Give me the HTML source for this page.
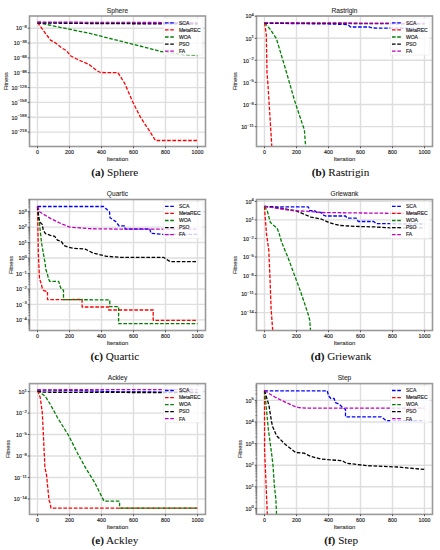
<!DOCTYPE html>
<html><head><meta charset="utf-8"><style>html,body{margin:0;padding:0;background:#fff;width:440px;height:550px;overflow:hidden}svg{display:block}.t{font-family:"Liberation Sans",sans-serif;fill:#262626;stroke:#1a1a1a;stroke-width:0.15px}.c{font-family:"Liberation Serif",serif;fill:#111;stroke:#111;stroke-width:0.05px}.l{font-family:"Liberation Sans",sans-serif;fill:#262626;stroke:#262626;stroke-width:0.08px}</style></head><body>
<svg width="440" height="550" viewBox="0 0 440 550">
<rect x="0" y="0" width="440" height="550" fill="#fff"/>
<defs><clipPath id="clip0"><rect x="29.5" y="16" width="176" height="130.5"/></clipPath></defs>
<path d="M37.5 16V146.5M69.5 16V146.5M101.5 16V146.5M133.5 16V146.5M165.5 16V146.5M197.5 16V146.5M29.5 28.2H205.5M29.5 43.05H205.5M29.5 57.9H205.5M29.5 72.7H205.5M29.5 87.6H205.5M29.5 102.4H205.5M29.5 117.3H205.5M29.5 132.1H205.5" stroke="#dedede" stroke-width="1.4" fill="none"/>
<g clip-path="url(#clip0)" fill="none" stroke-width="1.3" stroke-dasharray="3.6,1.65" stroke-linejoin="round">
<path d="M37.5 22.5 L100 23 L197.5 23.3" stroke="#0000ff"/>
<path d="M37.5 22.4 L43 30 L50.5 40.1 L55 42.6 L61.8 48 L66.4 50.6 L70.9 56 L77.7 59.5 L89 64.5 L97 70.8 L100.5 72.5 L118 72.7 L124.8 83.6 L132.7 101.8 L140.7 117.7 L149.8 131.4 L155.5 140.5 L197.5 140.5" stroke="#ff0000"/>
<path d="M37.5 22.6 L60 27.3 L90 33.4 L110 38.5 L140 46 L161 51.5 L180 54.3 L197.5 55.6" stroke="#008000"/>
<path d="M37.5 23 L100 23.6 L197.5 24" stroke="#000000"/>
<path d="M37.5 22 L100 22.4 L197.5 22.6" stroke="#bf00bf"/>
</g>
<rect x="29.5" y="16" width="176" height="130.5" fill="none" stroke="#999999" stroke-width="1.6"/>
<path d="M37.5 146.5v1.8M69.5 146.5v1.8M101.5 146.5v1.8M133.5 146.5v1.8M165.5 146.5v1.8M197.5 146.5v1.8M29.5 28.2h-1.8M29.5 43.05h-1.8M29.5 57.9h-1.8M29.5 72.7h-1.8M29.5 87.6h-1.8M29.5 102.4h-1.8M29.5 117.3h-1.8M29.5 132.1h-1.8" stroke="#333333" stroke-width="0.8" fill="none"/>
<text class="t" x="37.5" y="154.1" font-size="5.3" text-anchor="middle">0</text>
<text class="t" x="69.5" y="154.1" font-size="5.3" text-anchor="middle">200</text>
<text class="t" x="101.5" y="154.1" font-size="5.3" text-anchor="middle">400</text>
<text class="t" x="133.5" y="154.1" font-size="5.3" text-anchor="middle">600</text>
<text class="t" x="165.5" y="154.1" font-size="5.3" text-anchor="middle">800</text>
<text class="t" x="197.5" y="154.1" font-size="5.3" text-anchor="middle">1000</text>
<text class="t" x="26.7" y="30.4" font-size="5.3" text-anchor="end">10<tspan font-size="4.1" dy="-2.2">−8</tspan></text>
<text class="t" x="26.7" y="45.25" font-size="5.3" text-anchor="end">10<tspan font-size="4.1" dy="-2.2">−38</tspan></text>
<text class="t" x="26.7" y="60.1" font-size="5.3" text-anchor="end">10<tspan font-size="4.1" dy="-2.2">−68</tspan></text>
<text class="t" x="26.7" y="74.9" font-size="5.3" text-anchor="end">10<tspan font-size="4.1" dy="-2.2">−98</tspan></text>
<text class="t" x="26.7" y="89.8" font-size="5.3" text-anchor="end">10<tspan font-size="4.1" dy="-2.2">−128</tspan></text>
<text class="t" x="26.7" y="104.6" font-size="5.3" text-anchor="end">10<tspan font-size="4.1" dy="-2.2">−158</tspan></text>
<text class="t" x="26.7" y="119.5" font-size="5.3" text-anchor="end">10<tspan font-size="4.1" dy="-2.2">−188</tspan></text>
<text class="t" x="26.7" y="134.3" font-size="5.3" text-anchor="end">10<tspan font-size="4.1" dy="-2.2">−218</tspan></text>
<text class="l" x="117.5" y="161.2" font-size="6.0" text-anchor="middle">Iteration</text>
<text class="l" transform="translate(8.15 81.25) rotate(-90)" font-size="5.6" text-anchor="middle">Fitness</text>
<text class="l" x="117.5" y="12.7" font-size="6.6" text-anchor="middle">Sphere</text>
<rect x="163.4" y="18.1" width="39.5" height="37" rx="1.2" fill="#ffffff" fill-opacity="0.8" stroke="#e8e8e8" stroke-width="0.6"/>
<path d="M165 22.9h9.3" stroke="#0000ff" stroke-width="1.3" stroke-dasharray="3.6,1.65"/>
<text class="t" x="178.9" y="24.7" font-size="5.05">SCA</text>
<path d="M165 29.95h9.3" stroke="#ff0000" stroke-width="1.3" stroke-dasharray="3.6,1.65"/>
<text class="t" x="178.9" y="31.75" font-size="5.05">MetaREC</text>
<path d="M165 37h9.3" stroke="#008000" stroke-width="1.3" stroke-dasharray="3.6,1.65"/>
<text class="t" x="178.9" y="38.8" font-size="5.05">WOA</text>
<path d="M165 44.05h9.3" stroke="#000000" stroke-width="1.3" stroke-dasharray="3.6,1.65"/>
<text class="t" x="178.9" y="45.85" font-size="5.05">PSO</text>
<path d="M165 51.1h9.3" stroke="#bf00bf" stroke-width="1.3" stroke-dasharray="3.6,1.65"/>
<text class="t" x="178.9" y="52.9" font-size="5.05">FA</text>
<text class="c" x="114.7" y="176.4" font-size="11.2" text-anchor="middle"><tspan font-weight="bold">(a)</tspan> Sphere</text>
<defs><clipPath id="clip1"><rect x="256.5" y="16" width="176" height="130.5"/></clipPath></defs>
<path d="M264.5 16V146.5M296.5 16V146.5M328.5 16V146.5M360.5 16V146.5M392.5 16V146.5M424.5 16V146.5M256.5 16.2H432.5M256.5 38.3H432.5M256.5 60.3H432.5M256.5 82.4H432.5M256.5 104.5H432.5M256.5 126.6H432.5" stroke="#dedede" stroke-width="1.4" fill="none"/>
<g clip-path="url(#clip1)" fill="none" stroke-width="1.3" stroke-dasharray="3.6,1.65" stroke-linejoin="round">
<path d="M264.5 23.2 L330 24 L347.7 24.6 L350.5 27 L369.6 27 L372.3 28 L424.5 28.4" stroke="#0000ff"/>
<path d="M264.6 22.9 L266.3 34.5 L267 72.7 L268 85 L271.8 146.5" stroke="#ff0000"/>
<path d="M264.6 22.9 L270 29 L276.4 38.6 L286.6 72.7 L294.5 100.4 L301.9 122.6 L304.4 130 L305.6 146.5" stroke="#008000"/>
<path d="M264.5 23 L424.5 23.9" stroke="#000000"/>
<path d="M264.5 22.6 L424.5 23.4" stroke="#bf00bf"/>
</g>
<rect x="256.5" y="16" width="176" height="130.5" fill="none" stroke="#999999" stroke-width="1.6"/>
<path d="M264.5 146.5v1.8M296.5 146.5v1.8M328.5 146.5v1.8M360.5 146.5v1.8M392.5 146.5v1.8M424.5 146.5v1.8M256.5 16.2h-1.8M256.5 38.3h-1.8M256.5 60.3h-1.8M256.5 82.4h-1.8M256.5 104.5h-1.8M256.5 126.6h-1.8" stroke="#333333" stroke-width="0.8" fill="none"/>
<text class="t" x="264.5" y="154.1" font-size="5.3" text-anchor="middle">0</text>
<text class="t" x="296.5" y="154.1" font-size="5.3" text-anchor="middle">200</text>
<text class="t" x="328.5" y="154.1" font-size="5.3" text-anchor="middle">400</text>
<text class="t" x="360.5" y="154.1" font-size="5.3" text-anchor="middle">600</text>
<text class="t" x="392.5" y="154.1" font-size="5.3" text-anchor="middle">800</text>
<text class="t" x="424.5" y="154.1" font-size="5.3" text-anchor="middle">1000</text>
<text class="t" x="253.7" y="18.4" font-size="5.3" text-anchor="end">10<tspan font-size="4.1" dy="-2.2">4</tspan></text>
<text class="t" x="253.7" y="40.5" font-size="5.3" text-anchor="end">10<tspan font-size="4.1" dy="-2.2">1</tspan></text>
<text class="t" x="253.7" y="62.5" font-size="5.3" text-anchor="end">10<tspan font-size="4.1" dy="-2.2">−2</tspan></text>
<text class="t" x="253.7" y="84.6" font-size="5.3" text-anchor="end">10<tspan font-size="4.1" dy="-2.2">−5</tspan></text>
<text class="t" x="253.7" y="106.7" font-size="5.3" text-anchor="end">10<tspan font-size="4.1" dy="-2.2">−8</tspan></text>
<text class="t" x="253.7" y="128.8" font-size="5.3" text-anchor="end">10<tspan font-size="4.1" dy="-2.2">−11</tspan></text>
<text class="l" x="344.5" y="161.2" font-size="6.0" text-anchor="middle">Iteration</text>
<text class="l" transform="translate(236.75 81.25) rotate(-90)" font-size="5.6" text-anchor="middle">Fitness</text>
<text class="l" x="344.5" y="12.7" font-size="6.6" text-anchor="middle">Rastrigin</text>
<rect x="390.4" y="18.1" width="39.5" height="37" rx="1.2" fill="#ffffff" fill-opacity="0.8" stroke="#e8e8e8" stroke-width="0.6"/>
<path d="M392 22.9h9.3" stroke="#0000ff" stroke-width="1.3" stroke-dasharray="3.6,1.65"/>
<text class="t" x="405.9" y="24.7" font-size="5.05">SCA</text>
<path d="M392 29.95h9.3" stroke="#ff0000" stroke-width="1.3" stroke-dasharray="3.6,1.65"/>
<text class="t" x="405.9" y="31.75" font-size="5.05">MetaREC</text>
<path d="M392 37h9.3" stroke="#008000" stroke-width="1.3" stroke-dasharray="3.6,1.65"/>
<text class="t" x="405.9" y="38.8" font-size="5.05">WOA</text>
<path d="M392 44.05h9.3" stroke="#000000" stroke-width="1.3" stroke-dasharray="3.6,1.65"/>
<text class="t" x="405.9" y="45.85" font-size="5.05">PSO</text>
<path d="M392 51.1h9.3" stroke="#bf00bf" stroke-width="1.3" stroke-dasharray="3.6,1.65"/>
<text class="t" x="405.9" y="52.9" font-size="5.05">FA</text>
<text class="c" x="340.5" y="176.4" font-size="11.2" text-anchor="middle"><tspan font-weight="bold">(b)</tspan> Rastrigin</text>
<defs><clipPath id="clip2"><rect x="29.5" y="199.5" width="176" height="131"/></clipPath></defs>
<path d="M37.5 199.5V330.5M69.5 199.5V330.5M101.5 199.5V330.5M133.5 199.5V330.5M165.5 199.5V330.5M197.5 199.5V330.5M29.5 211.6H205.5M29.5 227.1H205.5M29.5 242.5H205.5M29.5 258H205.5M29.5 273.5H205.5M29.5 289H205.5M29.5 304.4H205.5M29.5 319.9H205.5" stroke="#dedede" stroke-width="1.4" fill="none"/>
<g clip-path="url(#clip2)" fill="none" stroke-width="1.3" stroke-dasharray="3.6,1.65" stroke-linejoin="round">
<path d="M37.5 206.5 L103.6 206.5 L109.5 211.8 L110 217.7 L112.7 219.5 L115.5 221.4 L119.1 225.9 L125 225.9 L125 229 L149.8 229 L150.9 233.2 L162.3 234.4 L197.5 234.4" stroke="#0000ff"/>
<path d="M37.5 206.6 L38.4 254.5 L39.5 278.7 L41.3 283.8 L42.4 288.9 L43.8 290.7 L47.5 291.5 L47.5 299.6 L82.1 299.5 L82.1 307 L108.7 307 L108.7 310 L153.2 310 L153.2 320.3 L197.5 320.3" stroke="#ff0000"/>
<path d="M37.5 206.6 L39.5 223.8 L41.6 243.4 L44.3 258.7 L44.9 262 L46 270 L47.5 274.4 L48.5 278.7 L49.6 281.3 L58.7 281.3 L59.8 285.3 L61.3 289.3 L63.5 290 L63.5 299.6 L109.8 299.9 L109.8 306.6 L118.6 306.6 L118.6 323.7 L197.5 323.7" stroke="#008000"/>
<path d="M37.5 206.6 L38.9 218.4 L40 222.2 L42.2 224.4 L43.3 230.4 L45.5 233.6 L50.4 235.3 L54.7 236.4 L57.4 240.2 L61.3 241.3 L64 245.6 L68.9 247.3 L74 248.3 L85.2 249.1 L93.4 253.2 L106.7 256.3 L120 257.3 L163.4 257.3 L170.2 261.6 L197.5 261.6" stroke="#000000"/>
<path d="M37.5 206.6 L39.5 211.8 L50.4 218.4 L61.3 223.8 L70 227.1 L89.3 228.7 L120 229.1 L197.5 229.1" stroke="#bf00bf"/>
</g>
<rect x="29.5" y="199.5" width="176" height="131" fill="none" stroke="#999999" stroke-width="1.6"/>
<path d="M37.5 330.5v1.8M69.5 330.5v1.8M101.5 330.5v1.8M133.5 330.5v1.8M165.5 330.5v1.8M197.5 330.5v1.8M29.5 211.6h-1.8M29.5 227.1h-1.8M29.5 242.5h-1.8M29.5 258h-1.8M29.5 273.5h-1.8M29.5 289h-1.8M29.5 304.4h-1.8M29.5 319.9h-1.8M29.5 206.93h-0.9M29.5 204.2h-0.9M29.5 202.27h-0.9M29.5 200.77h-0.9M29.5 199.54h-0.9M29.5 222.43h-0.9M29.5 219.7h-0.9M29.5 217.77h-0.9M29.5 216.27h-0.9M29.5 215.04h-0.9M29.5 214h-0.9M29.5 213.1h-0.9M29.5 212.31h-0.9M29.5 237.93h-0.9M29.5 235.2h-0.9M29.5 233.27h-0.9M29.5 231.77h-0.9M29.5 230.54h-0.9M29.5 229.5h-0.9M29.5 228.6h-0.9M29.5 227.81h-0.9M29.5 253.43h-0.9M29.5 250.7h-0.9M29.5 248.77h-0.9M29.5 247.27h-0.9M29.5 246.04h-0.9M29.5 245h-0.9M29.5 244.1h-0.9M29.5 243.31h-0.9M29.5 268.93h-0.9M29.5 266.2h-0.9M29.5 264.27h-0.9M29.5 262.77h-0.9M29.5 261.54h-0.9M29.5 260.5h-0.9M29.5 259.6h-0.9M29.5 258.81h-0.9M29.5 284.43h-0.9M29.5 281.7h-0.9M29.5 279.77h-0.9M29.5 278.27h-0.9M29.5 277.04h-0.9M29.5 276h-0.9M29.5 275.1h-0.9M29.5 274.31h-0.9M29.5 299.93h-0.9M29.5 297.2h-0.9M29.5 295.27h-0.9M29.5 293.77h-0.9M29.5 292.54h-0.9M29.5 291.5h-0.9M29.5 290.6h-0.9M29.5 289.81h-0.9M29.5 315.43h-0.9M29.5 312.7h-0.9M29.5 310.77h-0.9M29.5 309.27h-0.9M29.5 308.04h-0.9M29.5 307h-0.9M29.5 306.1h-0.9M29.5 305.31h-0.9M29.5 328.2h-0.9M29.5 326.27h-0.9M29.5 324.77h-0.9M29.5 323.54h-0.9M29.5 322.5h-0.9M29.5 321.6h-0.9M29.5 320.81h-0.9" stroke="#333333" stroke-width="0.8" fill="none"/>
<text class="t" x="37.5" y="338.1" font-size="5.3" text-anchor="middle">0</text>
<text class="t" x="69.5" y="338.1" font-size="5.3" text-anchor="middle">200</text>
<text class="t" x="101.5" y="338.1" font-size="5.3" text-anchor="middle">400</text>
<text class="t" x="133.5" y="338.1" font-size="5.3" text-anchor="middle">600</text>
<text class="t" x="165.5" y="338.1" font-size="5.3" text-anchor="middle">800</text>
<text class="t" x="197.5" y="338.1" font-size="5.3" text-anchor="middle">1000</text>
<text class="t" x="26.7" y="213.8" font-size="5.3" text-anchor="end">10<tspan font-size="4.1" dy="-2.2">3</tspan></text>
<text class="t" x="26.7" y="229.3" font-size="5.3" text-anchor="end">10<tspan font-size="4.1" dy="-2.2">2</tspan></text>
<text class="t" x="26.7" y="244.7" font-size="5.3" text-anchor="end">10<tspan font-size="4.1" dy="-2.2">1</tspan></text>
<text class="t" x="26.7" y="260.2" font-size="5.3" text-anchor="end">10<tspan font-size="4.1" dy="-2.2">0</tspan></text>
<text class="t" x="26.7" y="275.7" font-size="5.3" text-anchor="end">10<tspan font-size="4.1" dy="-2.2">−1</tspan></text>
<text class="t" x="26.7" y="291.2" font-size="5.3" text-anchor="end">10<tspan font-size="4.1" dy="-2.2">−2</tspan></text>
<text class="t" x="26.7" y="306.6" font-size="5.3" text-anchor="end">10<tspan font-size="4.1" dy="-2.2">−3</tspan></text>
<text class="t" x="26.7" y="322.1" font-size="5.3" text-anchor="end">10<tspan font-size="4.1" dy="-2.2">−4</tspan></text>
<text class="l" x="117.5" y="345.2" font-size="6.0" text-anchor="middle">Iteration</text>
<text class="l" transform="translate(12.6 265) rotate(-90)" font-size="5.6" text-anchor="middle">Fitness</text>
<text class="l" x="117.5" y="196.2" font-size="6.6" text-anchor="middle">Quartic</text>
<rect x="163.4" y="201.6" width="39.5" height="37" rx="1.2" fill="#ffffff" fill-opacity="0.8" stroke="#e8e8e8" stroke-width="0.6"/>
<path d="M165 206.4h9.3" stroke="#0000ff" stroke-width="1.3" stroke-dasharray="3.6,1.65"/>
<text class="t" x="178.9" y="208.2" font-size="5.05">SCA</text>
<path d="M165 213.45h9.3" stroke="#ff0000" stroke-width="1.3" stroke-dasharray="3.6,1.65"/>
<text class="t" x="178.9" y="215.25" font-size="5.05">MetaREC</text>
<path d="M165 220.5h9.3" stroke="#008000" stroke-width="1.3" stroke-dasharray="3.6,1.65"/>
<text class="t" x="178.9" y="222.3" font-size="5.05">WOA</text>
<path d="M165 227.55h9.3" stroke="#000000" stroke-width="1.3" stroke-dasharray="3.6,1.65"/>
<text class="t" x="178.9" y="229.35" font-size="5.05">PSO</text>
<path d="M165 234.6h9.3" stroke="#bf00bf" stroke-width="1.3" stroke-dasharray="3.6,1.65"/>
<text class="t" x="178.9" y="236.4" font-size="5.05">FA</text>
<text class="c" x="114.9" y="360.4" font-size="11.2" text-anchor="middle"><tspan font-weight="bold">(c)</tspan> Quartic</text>
<defs><clipPath id="clip3"><rect x="256.5" y="199.5" width="176" height="131"/></clipPath></defs>
<path d="M264.5 199.5V330.5M296.5 199.5V330.5M328.5 199.5V330.5M360.5 199.5V330.5M392.5 199.5V330.5M424.5 199.5V330.5M256.5 201.4H432.5M256.5 219.9H432.5M256.5 238.5H432.5M256.5 257H432.5M256.5 275.5H432.5M256.5 294.1H432.5M256.5 312.6H432.5" stroke="#dedede" stroke-width="1.4" fill="none"/>
<g clip-path="url(#clip3)" fill="none" stroke-width="1.3" stroke-dasharray="3.6,1.65" stroke-linejoin="round">
<path d="M264.5 206.4 L277.9 206.9 L308.4 206.9 L309.7 210.7 L314.8 210.7 L316.5 212.3 L321 212.5 L323 214.8 L325.5 216 L345.5 216 L347.3 218.2 L356.4 218.2 L358.2 221.5 L373.6 221.5 L376.4 223.6 L424.5 224" stroke="#0000ff"/>
<path d="M264.5 206.4 L265 215 L266.5 234 L268.8 250 L270.1 281 L271.1 308.7 L272.7 330.5" stroke="#ff0000"/>
<path d="M264.5 206.4 L267.3 211 L270.3 222.3 L273 225 L277 228 L279 233 L281.7 242.5 L288.1 257.8 L293.2 271.8 L300.8 292.1 L308.4 315 L309.7 320.1 L310.5 330.5" stroke="#008000"/>
<path d="M264.5 206.4 L280.4 208.2 L295.7 210.7 L311 217.1 L321.2 219 L329.1 222.7 L340 225.5 L356.4 226.4 L374.5 226.9 L390 227.8 L424.5 227.9" stroke="#000000"/>
<path d="M264.5 206.4 L293.2 210.7 L305.9 211.2 L321.2 212.5 L390 213.3 L424.5 213.3" stroke="#bf00bf"/>
</g>
<rect x="256.5" y="199.5" width="176" height="131" fill="none" stroke="#999999" stroke-width="1.6"/>
<path d="M264.5 330.5v1.8M296.5 330.5v1.8M328.5 330.5v1.8M360.5 330.5v1.8M392.5 330.5v1.8M424.5 330.5v1.8M256.5 201.4h-1.8M256.5 219.9h-1.8M256.5 238.5h-1.8M256.5 257h-1.8M256.5 275.5h-1.8M256.5 294.1h-1.8M256.5 312.6h-1.8" stroke="#333333" stroke-width="0.8" fill="none"/>
<text class="t" x="264.5" y="338.1" font-size="5.3" text-anchor="middle">0</text>
<text class="t" x="296.5" y="338.1" font-size="5.3" text-anchor="middle">200</text>
<text class="t" x="328.5" y="338.1" font-size="5.3" text-anchor="middle">400</text>
<text class="t" x="360.5" y="338.1" font-size="5.3" text-anchor="middle">600</text>
<text class="t" x="392.5" y="338.1" font-size="5.3" text-anchor="middle">800</text>
<text class="t" x="424.5" y="338.1" font-size="5.3" text-anchor="middle">1000</text>
<text class="t" x="253.7" y="203.6" font-size="5.3" text-anchor="end">10<tspan font-size="4.1" dy="-2.2">4</tspan></text>
<text class="t" x="253.7" y="222.1" font-size="5.3" text-anchor="end">10<tspan font-size="4.1" dy="-2.2">1</tspan></text>
<text class="t" x="253.7" y="240.7" font-size="5.3" text-anchor="end">10<tspan font-size="4.1" dy="-2.2">−2</tspan></text>
<text class="t" x="253.7" y="259.2" font-size="5.3" text-anchor="end">10<tspan font-size="4.1" dy="-2.2">−5</tspan></text>
<text class="t" x="253.7" y="277.7" font-size="5.3" text-anchor="end">10<tspan font-size="4.1" dy="-2.2">−8</tspan></text>
<text class="t" x="253.7" y="296.3" font-size="5.3" text-anchor="end">10<tspan font-size="4.1" dy="-2.2">−11</tspan></text>
<text class="t" x="253.7" y="314.8" font-size="5.3" text-anchor="end">10<tspan font-size="4.1" dy="-2.2">−14</tspan></text>
<text class="l" x="344.5" y="345.2" font-size="6.0" text-anchor="middle">Iteration</text>
<text class="l" transform="translate(236.9 265) rotate(-90)" font-size="5.6" text-anchor="middle">Fitness</text>
<text class="l" x="344.5" y="196.2" font-size="6.6" text-anchor="middle">Griewank</text>
<rect x="390.4" y="201.6" width="39.5" height="37" rx="1.2" fill="#ffffff" fill-opacity="0.8" stroke="#e8e8e8" stroke-width="0.6"/>
<path d="M392 206.4h9.3" stroke="#0000ff" stroke-width="1.3" stroke-dasharray="3.6,1.65"/>
<text class="t" x="405.9" y="208.2" font-size="5.05">SCA</text>
<path d="M392 213.45h9.3" stroke="#ff0000" stroke-width="1.3" stroke-dasharray="3.6,1.65"/>
<text class="t" x="405.9" y="215.25" font-size="5.05">MetaREC</text>
<path d="M392 220.5h9.3" stroke="#008000" stroke-width="1.3" stroke-dasharray="3.6,1.65"/>
<text class="t" x="405.9" y="222.3" font-size="5.05">WOA</text>
<path d="M392 227.55h9.3" stroke="#000000" stroke-width="1.3" stroke-dasharray="3.6,1.65"/>
<text class="t" x="405.9" y="229.35" font-size="5.05">PSO</text>
<path d="M392 234.6h9.3" stroke="#bf00bf" stroke-width="1.3" stroke-dasharray="3.6,1.65"/>
<text class="t" x="405.9" y="236.4" font-size="5.05">FA</text>
<text class="c" x="341.1" y="360.4" font-size="11.2" text-anchor="middle"><tspan font-weight="bold">(d)</tspan> Griewank</text>
<defs><clipPath id="clip4"><rect x="29.5" y="383.6" width="176" height="130.8"/></clipPath></defs>
<path d="M37.5 383.6V514.4M69.5 383.6V514.4M101.5 383.6V514.4M133.5 383.6V514.4M165.5 383.6V514.4M197.5 383.6V514.4M29.5 391.6H205.5M29.5 413.1H205.5M29.5 434.5H205.5M29.5 456H205.5M29.5 477.5H205.5M29.5 499H205.5" stroke="#dedede" stroke-width="1.4" fill="none"/>
<g clip-path="url(#clip4)" fill="none" stroke-width="1.3" stroke-dasharray="3.6,1.65" stroke-linejoin="round">
<path d="M37.5 390 L80 390.6 L120 391.8 L197.5 392.3" stroke="#0000ff"/>
<path d="M37.5 390.6 L40.2 397.3 L42.3 412.7 L43.3 433.1 L44.9 467.3 L46.5 475 L49 500 L50.1 503 L51 508.2 L197.5 508.2" stroke="#ff0000"/>
<path d="M37.5 390.6 L45.3 396.3 L50.4 404.5 L57.6 417.8 L68.6 435.5 L77.3 452.8 L85.9 468.4 L94.5 482.2 L104 501.2 L119.6 501.2 L119.6 508.2 L197.5 508.2" stroke="#008000"/>
<path d="M37.5 390.8 L42 392.2 L197.5 392.7" stroke="#000000"/>
<path d="M37.5 389.8 L197.5 389.6" stroke="#bf00bf"/>
</g>
<rect x="29.5" y="383.6" width="176" height="130.8" fill="none" stroke="#999999" stroke-width="1.6"/>
<path d="M37.5 514.4v1.8M69.5 514.4v1.8M101.5 514.4v1.8M133.5 514.4v1.8M165.5 514.4v1.8M197.5 514.4v1.8M29.5 391.6h-1.8M29.5 413.1h-1.8M29.5 434.5h-1.8M29.5 456h-1.8M29.5 477.5h-1.8M29.5 499h-1.8" stroke="#333333" stroke-width="0.8" fill="none"/>
<text class="t" x="37.5" y="522" font-size="5.3" text-anchor="middle">0</text>
<text class="t" x="69.5" y="522" font-size="5.3" text-anchor="middle">200</text>
<text class="t" x="101.5" y="522" font-size="5.3" text-anchor="middle">400</text>
<text class="t" x="133.5" y="522" font-size="5.3" text-anchor="middle">600</text>
<text class="t" x="165.5" y="522" font-size="5.3" text-anchor="middle">800</text>
<text class="t" x="197.5" y="522" font-size="5.3" text-anchor="middle">1000</text>
<text class="t" x="26.7" y="393.8" font-size="5.3" text-anchor="end">10<tspan font-size="4.1" dy="-2.2">1</tspan></text>
<text class="t" x="26.7" y="415.3" font-size="5.3" text-anchor="end">10<tspan font-size="4.1" dy="-2.2">−2</tspan></text>
<text class="t" x="26.7" y="436.7" font-size="5.3" text-anchor="end">10<tspan font-size="4.1" dy="-2.2">−5</tspan></text>
<text class="t" x="26.7" y="458.2" font-size="5.3" text-anchor="end">10<tspan font-size="4.1" dy="-2.2">−8</tspan></text>
<text class="t" x="26.7" y="479.7" font-size="5.3" text-anchor="end">10<tspan font-size="4.1" dy="-2.2">−11</tspan></text>
<text class="t" x="26.7" y="501.2" font-size="5.3" text-anchor="end">10<tspan font-size="4.1" dy="-2.2">−14</tspan></text>
<text class="l" x="117.5" y="529.1" font-size="6.0" text-anchor="middle">Iteration</text>
<text class="l" transform="translate(10.1 449) rotate(-90)" font-size="5.6" text-anchor="middle">Fitness</text>
<text class="l" x="117.5" y="380.3" font-size="6.6" text-anchor="middle">Ackley</text>
<rect x="163.4" y="385.7" width="39.5" height="37" rx="1.2" fill="#ffffff" fill-opacity="0.8" stroke="#e8e8e8" stroke-width="0.6"/>
<path d="M165 390.5h9.3" stroke="#0000ff" stroke-width="1.3" stroke-dasharray="3.6,1.65"/>
<text class="t" x="178.9" y="392.3" font-size="5.05">SCA</text>
<path d="M165 397.55h9.3" stroke="#ff0000" stroke-width="1.3" stroke-dasharray="3.6,1.65"/>
<text class="t" x="178.9" y="399.35" font-size="5.05">MetaREC</text>
<path d="M165 404.6h9.3" stroke="#008000" stroke-width="1.3" stroke-dasharray="3.6,1.65"/>
<text class="t" x="178.9" y="406.4" font-size="5.05">WOA</text>
<path d="M165 411.65h9.3" stroke="#000000" stroke-width="1.3" stroke-dasharray="3.6,1.65"/>
<text class="t" x="178.9" y="413.45" font-size="5.05">PSO</text>
<path d="M165 418.7h9.3" stroke="#bf00bf" stroke-width="1.3" stroke-dasharray="3.6,1.65"/>
<text class="t" x="178.9" y="420.5" font-size="5.05">FA</text>
<text class="c" x="114.9" y="544.3" font-size="11.2" text-anchor="middle"><tspan font-weight="bold">(e)</tspan> Ackley</text>
<defs><clipPath id="clip5"><rect x="256.5" y="383.6" width="176" height="130.8"/></clipPath></defs>
<path d="M264.5 383.6V514.4M296.5 383.6V514.4M328.5 383.6V514.4M360.5 383.6V514.4M392.5 383.6V514.4M424.5 383.6V514.4M256.5 400.4H432.5M256.5 422H432.5M256.5 443.6H432.5M256.5 465.2H432.5M256.5 486.8H432.5M256.5 508.4H432.5" stroke="#dedede" stroke-width="1.4" fill="none"/>
<g clip-path="url(#clip5)" fill="none" stroke-width="1.3" stroke-dasharray="3.6,1.65" stroke-linejoin="round">
<path d="M264.5 390.8 L327.3 390.8 L328.6 395.9 L330.9 398.5 L334.1 398.5 L335.5 402.7 L339.1 404.1 L342.3 407.3 L345.5 409.5 L345.5 416.8 L381.2 416.8 L386.2 420.7 L424.5 420.7" stroke="#0000ff"/>
<path d="M264.5 390.6 L264.6 450 L267.3 514" stroke="#ff0000"/>
<path d="M264.5 390.6 L266.2 406.5 L268.3 429 L271.4 452 L273 465.4 L274.4 485.9 L275.9 499.2 L276.5 514" stroke="#008000"/>
<path d="M264.5 390.6 L268.9 405.1 L271.5 421.6 L272.7 426.7 L276.5 435.6 L285.4 444.5 L295.6 452.4 L304.1 453.2 L310.2 456.2 L320.4 458.9 L328.6 459.7 L342.5 460.7 L346.2 463.2 L367.5 465.7 L397.5 467 L424.5 469.5" stroke="#000000"/>
<path d="M264.5 390.6 L270.3 394.3 L275.4 397.3 L285.7 402.4 L294.9 406.5 L299 407.6 L306.1 408.2 L424.5 408.2" stroke="#bf00bf"/>
</g>
<rect x="256.5" y="383.6" width="176" height="130.8" fill="none" stroke="#999999" stroke-width="1.6"/>
<path d="M264.5 514.4v1.8M296.5 514.4v1.8M328.5 514.4v1.8M360.5 514.4v1.8M392.5 514.4v1.8M424.5 514.4v1.8M256.5 400.4h-1.8M256.5 422h-1.8M256.5 443.6h-1.8M256.5 465.2h-1.8M256.5 486.8h-1.8M256.5 508.4h-1.8M256.5 393.9h-0.9M256.5 390.09h-0.9M256.5 387.4h-0.9M256.5 385.3h-0.9M256.5 415.5h-0.9M256.5 411.69h-0.9M256.5 409h-0.9M256.5 406.9h-0.9M256.5 405.19h-0.9M256.5 403.75h-0.9M256.5 402.49h-0.9M256.5 401.39h-0.9M256.5 437.1h-0.9M256.5 433.29h-0.9M256.5 430.6h-0.9M256.5 428.5h-0.9M256.5 426.79h-0.9M256.5 425.35h-0.9M256.5 424.09h-0.9M256.5 422.99h-0.9M256.5 458.7h-0.9M256.5 454.89h-0.9M256.5 452.2h-0.9M256.5 450.1h-0.9M256.5 448.39h-0.9M256.5 446.95h-0.9M256.5 445.69h-0.9M256.5 444.59h-0.9M256.5 480.3h-0.9M256.5 476.49h-0.9M256.5 473.8h-0.9M256.5 471.7h-0.9M256.5 469.99h-0.9M256.5 468.55h-0.9M256.5 467.29h-0.9M256.5 466.19h-0.9M256.5 501.9h-0.9M256.5 498.09h-0.9M256.5 495.4h-0.9M256.5 493.3h-0.9M256.5 491.59h-0.9M256.5 490.15h-0.9M256.5 488.89h-0.9M256.5 487.79h-0.9M256.5 513.19h-0.9M256.5 511.75h-0.9M256.5 510.49h-0.9M256.5 509.39h-0.9" stroke="#333333" stroke-width="0.8" fill="none"/>
<text class="t" x="264.5" y="522" font-size="5.3" text-anchor="middle">0</text>
<text class="t" x="296.5" y="522" font-size="5.3" text-anchor="middle">200</text>
<text class="t" x="328.5" y="522" font-size="5.3" text-anchor="middle">400</text>
<text class="t" x="360.5" y="522" font-size="5.3" text-anchor="middle">600</text>
<text class="t" x="392.5" y="522" font-size="5.3" text-anchor="middle">800</text>
<text class="t" x="424.5" y="522" font-size="5.3" text-anchor="middle">1000</text>
<text class="t" x="253.7" y="402.6" font-size="5.3" text-anchor="end">10<tspan font-size="4.1" dy="-2.2">5</tspan></text>
<text class="t" x="253.7" y="424.2" font-size="5.3" text-anchor="end">10<tspan font-size="4.1" dy="-2.2">4</tspan></text>
<text class="t" x="253.7" y="445.8" font-size="5.3" text-anchor="end">10<tspan font-size="4.1" dy="-2.2">3</tspan></text>
<text class="t" x="253.7" y="467.4" font-size="5.3" text-anchor="end">10<tspan font-size="4.1" dy="-2.2">2</tspan></text>
<text class="t" x="253.7" y="489" font-size="5.3" text-anchor="end">10<tspan font-size="4.1" dy="-2.2">1</tspan></text>
<text class="t" x="253.7" y="510.6" font-size="5.3" text-anchor="end">10<tspan font-size="4.1" dy="-2.2">0</tspan></text>
<text class="l" x="344.5" y="529.1" font-size="6.0" text-anchor="middle">Iteration</text>
<text class="l" transform="translate(241.95 449) rotate(-90)" font-size="5.6" text-anchor="middle">Fitness</text>
<text class="l" x="344.5" y="380.3" font-size="6.6" text-anchor="middle">Step</text>
<rect x="390.4" y="385.7" width="39.5" height="37" rx="1.2" fill="#ffffff" fill-opacity="0.8" stroke="#e8e8e8" stroke-width="0.6"/>
<path d="M392 390.5h9.3" stroke="#0000ff" stroke-width="1.3" stroke-dasharray="3.6,1.65"/>
<text class="t" x="405.9" y="392.3" font-size="5.05">SCA</text>
<path d="M392 397.55h9.3" stroke="#ff0000" stroke-width="1.3" stroke-dasharray="3.6,1.65"/>
<text class="t" x="405.9" y="399.35" font-size="5.05">MetaREC</text>
<path d="M392 404.6h9.3" stroke="#008000" stroke-width="1.3" stroke-dasharray="3.6,1.65"/>
<text class="t" x="405.9" y="406.4" font-size="5.05">WOA</text>
<path d="M392 411.65h9.3" stroke="#000000" stroke-width="1.3" stroke-dasharray="3.6,1.65"/>
<text class="t" x="405.9" y="413.45" font-size="5.05">PSO</text>
<path d="M392 418.7h9.3" stroke="#bf00bf" stroke-width="1.3" stroke-dasharray="3.6,1.65"/>
<text class="t" x="405.9" y="420.5" font-size="5.05">FA</text>
<text class="c" x="341.1" y="544.3" font-size="11.2" text-anchor="middle"><tspan font-weight="bold">(f)</tspan> Step</text>
</svg>
</body></html>
